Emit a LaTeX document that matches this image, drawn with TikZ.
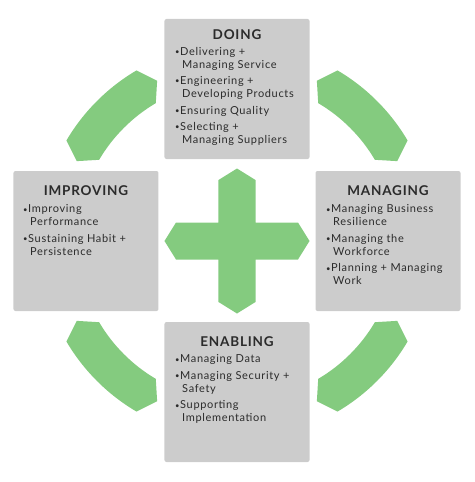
\documentclass[tikz,border=0pt]{standalone}
\usepackage{fontspec}
\setmainfont{Lato}[LetterSpace=6]
\usepackage{graphicx}
\definecolor{boxgrey}{HTML}{CCCCCC}
\definecolor{leafgreen}{HTML}{84CB7F}
\definecolor{inkgrey}{HTML}{2B2B2B}
\newcommand\bul{\makebox[5pt][l]{\raisebox{0.15ex}{\scalebox{0.7}{\textbullet}}}}
\newcommand\cont{\hspace*{7pt}}
\begin{document}
\begin{tikzpicture}[x=1pt,y=1pt,
    box/.style={fill=boxgrey, rounded corners=2pt, minimum width=145pt, minimum height=140pt, inner sep=0pt},
    heading/.style={font=\fontsize{13.5}{16}\selectfont\bfseries, text=inkgrey},
    items/.style={anchor=north west, align=left, inner sep=0pt, font=\fontsize{11}{13}\selectfont, text=inkgrey},
    band/.style={fill=leafgreen}]
    \useasboundingbox (-237,-241) rectangle (237,241);
    % ring pieces between the boxes
    \foreach \a in {45,135,225,315}
        \fill[band] ({\a-14.5}:198) arc[start angle=\a-14.5, end angle=\a+14.5, radius=198]
            -- ({\a+18.5}:179) -- ({\a+14.5}:160)
            arc[start angle=\a+14.5, end angle=\a-14.5, radius=160]
            -- ({\a-18.5}:179) -- cycle;
    % the plus in the middle
    \fill[band] (0,72.5) -- (18.5,61) -- (18.5,18.5) -- (61,18.5) -- (72.5,0) -- (61,-18.5)
        -- (18.5,-18.5) -- (18.5,-61) -- (0,-72.5) -- (-18.5,-61) -- (-18.5,-18.5) -- (-61,-18.5)
        -- (-72.5,0) -- (-61,18.5) -- (-18.5,18.5) -- (-18.5,61) -- cycle;
    \node[box] (doing) at (0,152) {};
    \node[box] (improving) at (-151,0) {};
    \node[box] (managing) at (151,0) {};
    \node[box] (enabling) at (0,-151) {};
    \node[heading] (doingh) at (0,206) {DOING};
    \node[heading] (improvingh) at (-151,50) {IMPROVING};
    \node[heading] (managingh) at (151,50) {MANAGING};
    \node[heading] (enablingh) at (0,-100.5) {ENABLING};
    \node[items] (doingl) at (-62,194) {\bul Delivering +\\ \cont Managing Service\\[3.5pt]
        \bul Engineering +\\ \cont Developing Products\\[3.5pt]
        \bul Ensuring Quality\\[3.5pt]
        \bul Selecting +\\ \cont Managing Suppliers};
    \node[items] (improvingl) at (-214,36.3) {\bul Improving\\ \cont Performance\\[3.5pt]
        \bul Sustaining Habit +\\ \cont Persistence};
    \node[items] (managingl) at (89,36.3) {\bul Managing Business\\ \cont Resilience\\[3.5pt]
        \bul Managing the\\ \cont Workforce\\[3.5pt]
        \bul Planning + Managing\\ \cont Work};
    \node[items] (enablingl) at (-62,-113.7) {\bul Managing Data\\[3.5pt]
        \bul Managing Security +\\ \cont Safety\\[3.5pt]
        \bul Supporting\\ \cont Implementation};
\end{tikzpicture}
\end{document}
